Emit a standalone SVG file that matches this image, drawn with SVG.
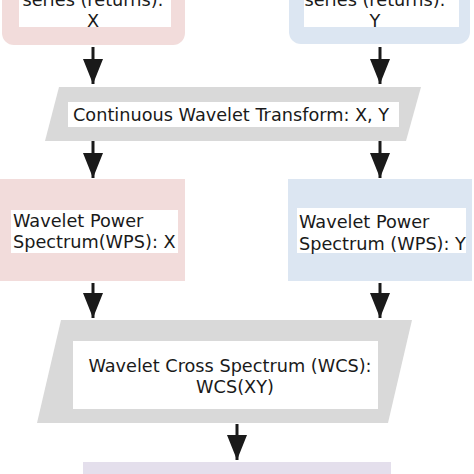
<svg xmlns="http://www.w3.org/2000/svg" width="474" height="474" viewBox="0 0 474 474">
<defs>
<style>
text{font-family:"DejaVu Sans","Liberation Sans",sans-serif;font-size:17.7px;fill:#1a1a1a}
.w{fill:#ffffff}
.pink{fill:#f2dcdb}
.blue{fill:#dce6f2}
.gray{fill:#d9d9d9}
.lav{fill:#e4dfec}
.c{text-anchor:middle}
.ln{stroke:#1a1a1a;stroke-width:3;fill:none}
</style>
<marker id="ah" viewBox="0 0 25 20" refX="25" refY="10" markerWidth="25" markerHeight="20" markerUnits="userSpaceOnUse" orient="auto">
<path d="M0,0 L25,10 L0,20 Z" fill="#1a1a1a"/>
</marker>
</defs>
<rect width="474" height="474" fill="#ffffff"/>
<g id="nodeX">
<rect class="pink" x="2" y="-60" width="183" height="105" rx="12"/>
<rect class="w" x="19" y="-40" width="152" height="67"/>
<text class="c" x="93" y="6">series (returns):</text>
<text class="c" x="93" y="27">X</text>
</g>
<g id="nodeY">
<rect class="blue" x="289" y="-60" width="181" height="104" rx="12"/>
<rect class="w" x="304" y="-40" width="155" height="67"/>
<text class="c" x="375" y="6">series (returns):</text>
<text class="c" x="375" y="27">Y</text>
</g>
<g id="cwt">
<polygon class="gray" points="59,87 421,87 406,141 45,141"/>
<rect class="w" x="68" y="102" width="331" height="25"/>
<text x="73" y="121">Continuous Wavelet Transform: X, Y</text>
</g>
<g id="wpsX">
<rect class="pink" x="0" y="179" width="185" height="102"/>
<rect class="w" x="11" y="210" width="167" height="43"/>
<text x="13" y="227">Wavelet Power</text>
<text x="13" y="248">Spectrum(WPS): X</text>
</g>
<g id="wpsY">
<rect class="blue" x="288" y="179" width="184" height="102"/>
<rect class="w" x="297" y="208" width="169" height="45"/>
<text x="299" y="228">Wavelet Power</text>
<text x="299" y="250">Spectrum (WPS): Y</text>
</g>
<g id="wcs">
<polygon class="gray" points="61,320 412,320 388,423 37,423"/>
<rect class="w" x="73" y="341" width="305" height="68"/>
<text class="c" x="230" y="372">Wavelet Cross Spectrum (WCS):</text>
<text class="c" x="235" y="393">WCS(XY)</text>
</g>
<g id="bottom">
<rect class="lav" x="83" y="462" width="308" height="20"/>
</g>
<g id="connectors">
<line class="ln" x1="93" y1="47" x2="93" y2="84" marker-end="url(#ah)"/>
<line class="ln" x1="380" y1="47" x2="380" y2="84" marker-end="url(#ah)"/>
<line class="ln" x1="93" y1="141" x2="93" y2="178" marker-end="url(#ah)"/>
<line class="ln" x1="380" y1="141" x2="380" y2="178" marker-end="url(#ah)"/>
<line class="ln" x1="93" y1="283" x2="93" y2="318" marker-end="url(#ah)"/>
<line class="ln" x1="380" y1="283" x2="380" y2="318" marker-end="url(#ah)"/>
<line class="ln" x1="237" y1="424" x2="237" y2="460" marker-end="url(#ah)"/>
</g>
</svg>
